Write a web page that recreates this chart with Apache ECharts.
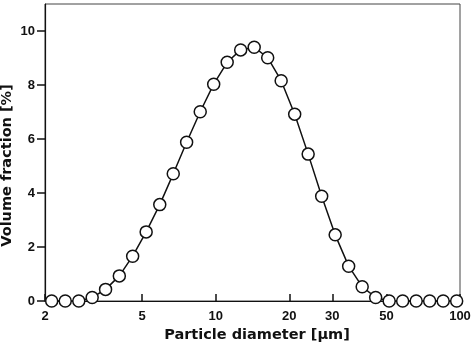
<!DOCTYPE html>
<html>
<head>
<meta charset="utf-8">
<script src="https://cdn.jsdelivr.net/npm/echarts@6/dist/echarts.min.js"></script>
<style>
  html, body { margin: 0; padding: 0; background: #fff; }
  #chart { width: 474px; height: 351px; }
</style>
</head>
<body>
<div id="chart"></div>
<script>
// particle size bins [µm] and measured volume fraction [%]
var diameters = [2.13, 2.42, 2.75, 3.12, 3.54, 4.03, 4.57, 5.19, 5.9, 6.7,
  7.6, 8.64, 9.81, 11.14, 12.65, 14.37, 16.32, 18.53, 21.05, 23.9,
  27.15, 30.83, 35.01, 39.77, 45.16, 51.29, 58.25, 66.16, 75.13, 85.33, 96.91]
var volumeFraction = [0, 0, 0, 0.13, 0.43, 0.93, 1.66, 2.56, 3.57, 4.71,
  5.88, 7.01, 8.03, 8.84, 9.3, 9.4, 9.01, 8.16, 6.92, 5.44,
  3.88, 2.45, 1.29, 0.53, 0.13, 0, 0, 0, 0, 0, 0]
var xTicks = [2, 5, 10, 20, 30, 50, 100]
var yTicks = [0, 2, 4, 6, 8, 10]

var chart = echarts.init(document.getElementById('chart'))
var points = diameters.map(function (d, i) {
  return [d, volumeFraction[i]]
})

var option = {
  animation: false,
  backgroundColor: '#fff',
  grid: {
    left: 45,
    top: 4,
    right: 14,
    bottom: 50,
    containLabel: false,
    outerBoundsMode: 'none',
    show: true,
    borderColor: '#444',
    borderWidth: 1
  },
  xAxis: {
    type: 'log',
    logBase: 10,
    min: 2,
    max: 100,
    name: 'Particle diameter [µm]',
    nameLocation: 'middle',
    nameGap: 18,
    nameTextStyle: {
      fontFamily: 'DejaVu Sans',
      fontWeight: 'bold',
      fontSize: 14.5,
      color: '#111',
      padding: [0, 0, 0, 9]
    },
    axisLine: { lineStyle: { color: '#111', width: 1.2 } },
    axisTick: {
      inside: true,
      length: 7,
      customValues: xTicks,
      lineStyle: { color: '#111', width: 1.5 }
    },
    minorTick: { show: false },
    splitLine: { show: false },
    axisLabel: {
      customValues: xTicks,
      margin: 9,
      fontFamily: 'Liberation Sans',
      fontWeight: 'bold',
      fontSize: 13,
      color: '#111'
    }
  },
  yAxis: {
    type: 'value',
    min: 0,
    max: 11,
    interval: 2,
    name: 'Volume fraction [%]',
    nameLocation: 'middle',
    nameRotate: 90,
    nameGap: 30,
    nameMoveOverlap: false,
    nameTextStyle: {
      fontFamily: 'DejaVu Sans',
      fontWeight: 'bold',
      fontSize: 14.5,
      color: '#111',
      padding: [0, 26, 0, 0]
    },
    axisLine: { show: true, lineStyle: { color: '#111', width: 1.2 } },
    axisTick: {
      show: true,
      length: 8,
      customValues: yTicks,
      lineStyle: { color: '#111', width: 1.5 }
    },
    splitLine: { show: false },
    axisLabel: {
      customValues: yTicks,
      margin: 10,
      fontFamily: 'Liberation Sans',
      fontWeight: 'bold',
      fontSize: 13,
      color: '#111'
    }
  },
  series: [
    {
      type: 'line',
      data: points,
      symbol: 'circle',
      symbolSize: 12,
      showAllSymbol: true,
      lineStyle: { color: '#111', width: 1.5 },
      itemStyle: { color: '#fff', borderColor: '#111', borderWidth: 1.5 },
      z: 3
    }
  ]
}
chart.setOption(option)
</script>
</body>
</html>
